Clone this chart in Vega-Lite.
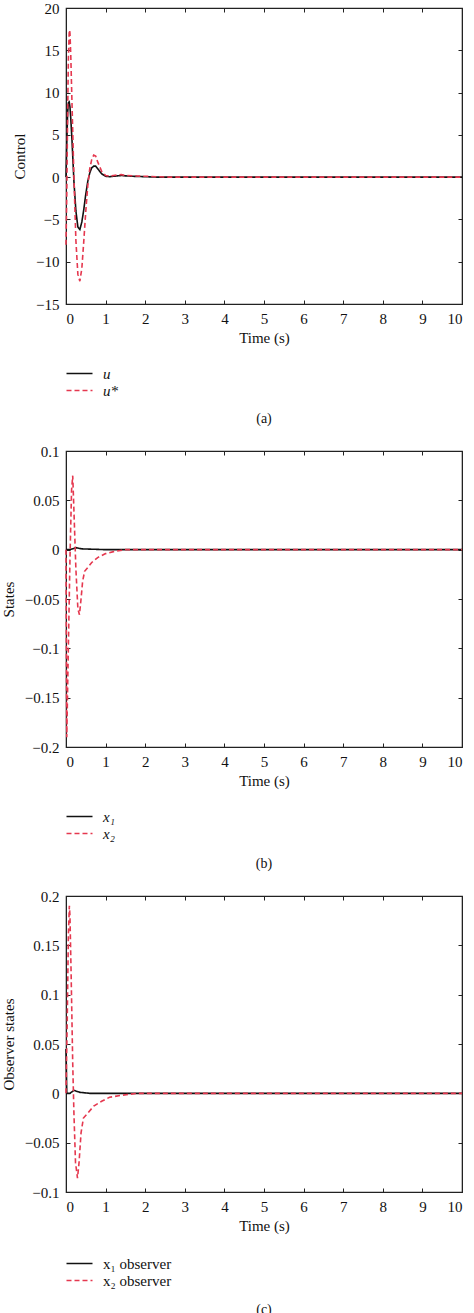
{
  "$schema": "https://vega.github.io/schema/vega-lite/v6.json",
  "padding": {"left": 0, "top": 0, "right": 0, "bottom": 0},
  "spacing": 16,
  "align": "none",
  "resolve": {"scale": {"color": "independent", "strokeDash": "independent"}, "legend": {"color": "independent", "strokeDash": "independent"}},
  "config": {
    "font": "Liberation Serif",
    "view": {"stroke": "#222", "strokeWidth": 1.2},
    "axis": {
      "grid": false,
      "domainColor": "#222",
      "tickColor": "#222",
      "tickSize": -4,
      "labelFontSize": 15,
      "labelColor": "#111",
      "titleFontSize": 15,
      "titleFontWeight": "normal",
      "titleColor": "#111",
      "labelPadding": 11,
      "format": "~r"
    },
    "legend": {
      "labelFontSize": 15,
      "labelColor": "#111",
      "symbolType": "M-2,0H2",
      "symbolSize": 169,
      "symbolStrokeWidth": 1.6,
      "labelOffset": 16,
      "rowPadding": 1,
      "padding": 0,
      "title": null
    },
    "title": {"fontSize": 14, "fontWeight": "normal", "color": "#111"}
  },
  "datasets": {
    "a": [
      {"t": 0, "v": 0, "s": "u"}, {"t": 0.02, "v": 4, "s": "u"}, {"t": 0.04, "v": 7.5, "s": "u"},
      {"t": 0.06, "v": 8.8, "s": "u"}, {"t": 0.08, "v": 8.9, "s": "u"}, {"t": 0.1, "v": 8.3, "s": "u"},
      {"t": 0.12, "v": 7, "s": "u"}, {"t": 0.15, "v": 4.5, "s": "u"}, {"t": 0.2, "v": -0.5, "s": "u"},
      {"t": 0.25, "v": -4, "s": "u"}, {"t": 0.3, "v": -5.9, "s": "u"}, {"t": 0.35, "v": -6.2, "s": "u"},
      {"t": 0.4, "v": -5.3, "s": "u"}, {"t": 0.45, "v": -3.8, "s": "u"}, {"t": 0.5, "v": -2, "s": "u"},
      {"t": 0.55, "v": -0.5, "s": "u"}, {"t": 0.6, "v": 0.5, "s": "u"}, {"t": 0.65, "v": 1.1, "s": "u"},
      {"t": 0.7, "v": 1.3, "s": "u"}, {"t": 0.75, "v": 1.3, "s": "u"}, {"t": 0.8, "v": 1.0, "s": "u"},
      {"t": 0.9, "v": 0.4, "s": "u"}, {"t": 1.0, "v": 0.1, "s": "u"}, {"t": 1.1, "v": 0.05, "s": "u"},
      {"t": 1.2, "v": 0.1, "s": "u"}, {"t": 1.3, "v": 0.15, "s": "u"}, {"t": 1.4, "v": 0.2, "s": "u"},
      {"t": 1.5, "v": 0.15, "s": "u"}, {"t": 1.7, "v": 0.1, "s": "u"}, {"t": 2.0, "v": 0.05, "s": "u"},
      {"t": 2.3, "v": 0, "s": "u"}, {"t": 3, "v": 0, "s": "u"}, {"t": 10, "v": 0, "s": "u"},
      {"t": 0, "v": -8, "s": "u*"}, {"t": 0.02, "v": -2, "s": "u*"}, {"t": 0.04, "v": 7, "s": "u*"},
      {"t": 0.06, "v": 14, "s": "u*"}, {"t": 0.08, "v": 17, "s": "u*"}, {"t": 0.09, "v": 17.4, "s": "u*"},
      {"t": 0.1, "v": 17, "s": "u*"}, {"t": 0.12, "v": 14.5, "s": "u*"}, {"t": 0.15, "v": 9, "s": "u*"},
      {"t": 0.2, "v": 0, "s": "u*"}, {"t": 0.25, "v": -7.5, "s": "u*"}, {"t": 0.3, "v": -11.5, "s": "u*"},
      {"t": 0.35, "v": -12.3, "s": "u*"}, {"t": 0.4, "v": -10.8, "s": "u*"}, {"t": 0.45, "v": -7.5, "s": "u*"},
      {"t": 0.5, "v": -4, "s": "u*"}, {"t": 0.55, "v": -1, "s": "u*"}, {"t": 0.6, "v": 1, "s": "u*"},
      {"t": 0.65, "v": 2.1, "s": "u*"}, {"t": 0.7, "v": 2.6, "s": "u*"}, {"t": 0.75, "v": 2.5, "s": "u*"},
      {"t": 0.8, "v": 1.8, "s": "u*"}, {"t": 0.9, "v": 0.7, "s": "u*"}, {"t": 1.0, "v": 0.2, "s": "u*"},
      {"t": 1.1, "v": 0.1, "s": "u*"}, {"t": 1.2, "v": 0.2, "s": "u*"}, {"t": 1.3, "v": 0.25, "s": "u*"},
      {"t": 1.4, "v": 0.3, "s": "u*"}, {"t": 1.5, "v": 0.2, "s": "u*"}, {"t": 1.7, "v": 0.15, "s": "u*"},
      {"t": 2.0, "v": 0.1, "s": "u*"}, {"t": 2.3, "v": 0.05, "s": "u*"}, {"t": 2.6, "v": 0, "s": "u*"},
      {"t": 3, "v": 0, "s": "u*"}, {"t": 10, "v": 0, "s": "u*"}
    ],
    "b": [
      {"t": 0, "v": 0, "s": "x₁"}, {"t": 0.1, "v": 0, "s": "x₁"}, {"t": 0.25, "v": 0.002, "s": "x₁"},
      {"t": 0.4, "v": 0.0008, "s": "x₁"}, {"t": 0.8, "v": 0.0003, "s": "x₁"}, {"t": 1, "v": 0, "s": "x₁"},
      {"t": 10, "v": 0, "s": "x₁"},
      {"t": 0, "v": 0, "s": "x₂"}, {"t": 0.02, "v": -0.19, "s": "x₂"}, {"t": 0.05, "v": -0.12, "s": "x₂"},
      {"t": 0.1, "v": -0.01, "s": "x₂"}, {"t": 0.14, "v": 0.06, "s": "x₂"}, {"t": 0.17, "v": 0.075, "s": "x₂"},
      {"t": 0.2, "v": 0.04, "s": "x₂"}, {"t": 0.25, "v": -0.02, "s": "x₂"}, {"t": 0.3, "v": -0.06, "s": "x₂"},
      {"t": 0.34, "v": -0.066, "s": "x₂"}, {"t": 0.38, "v": -0.05, "s": "x₂"}, {"t": 0.42, "v": -0.032, "s": "x₂"},
      {"t": 0.47, "v": -0.022, "s": "x₂"}, {"t": 0.55, "v": -0.018, "s": "x₂"}, {"t": 0.65, "v": -0.013, "s": "x₂"},
      {"t": 0.8, "v": -0.008, "s": "x₂"}, {"t": 1.0, "v": -0.004, "s": "x₂"}, {"t": 1.2, "v": -0.002, "s": "x₂"},
      {"t": 1.5, "v": 0, "s": "x₂"}, {"t": 10, "v": 0, "s": "x₂"}
    ],
    "c": [
      {"t": 0, "v": 0.045, "s": "x₁ observer"}, {"t": 0.02, "v": 0, "s": "x₁ observer"},
      {"t": 0.1, "v": 0, "s": "x₁ observer"}, {"t": 0.2, "v": 0.003, "s": "x₁ observer"},
      {"t": 0.35, "v": 0.001, "s": "x₁ observer"}, {"t": 0.6, "v": 0, "s": "x₁ observer"},
      {"t": 10, "v": 0, "s": "x₁ observer"},
      {"t": 0, "v": 0, "s": "x₂ observer"}, {"t": 0.03, "v": 0.07, "s": "x₂ observer"},
      {"t": 0.06, "v": 0.16, "s": "x₂ observer"}, {"t": 0.085, "v": 0.19, "s": "x₂ observer"},
      {"t": 0.1, "v": 0.18, "s": "x₂ observer"}, {"t": 0.13, "v": 0.12, "s": "x₂ observer"},
      {"t": 0.17, "v": 0.03, "s": "x₂ observer"}, {"t": 0.2, "v": -0.02, "s": "x₂ observer"},
      {"t": 0.24, "v": -0.07, "s": "x₂ observer"}, {"t": 0.29, "v": -0.086, "s": "x₂ observer"},
      {"t": 0.33, "v": -0.07, "s": "x₂ observer"}, {"t": 0.38, "v": -0.04, "s": "x₂ observer"},
      {"t": 0.44, "v": -0.025, "s": "x₂ observer"}, {"t": 0.55, "v": -0.02, "s": "x₂ observer"},
      {"t": 0.7, "v": -0.013, "s": "x₂ observer"}, {"t": 0.9, "v": -0.008, "s": "x₂ observer"},
      {"t": 1.1, "v": -0.004, "s": "x₂ observer"}, {"t": 1.4, "v": -0.002, "s": "x₂ observer"},
      {"t": 1.8, "v": 0, "s": "x₂ observer"}, {"t": 10, "v": 0, "s": "x₂ observer"}
    ]
  },
  "vconcat": [
    {
      "width": 396,
      "height": 296,
      "data": {"name": "a"},
      "title": {"text": "(a)", "orient": "bottom", "anchor": "middle", "offset": 13},
      "layer": [
        {
          "mark": {"type": "line", "strokeWidth": 1.6},
          "encoding": {
            "x": {"field": "t", "type": "quantitative", "title": "Time (s)",
              "scale": {"domain": [0, 10], "nice": false},
              "axis": {"values": [0, 1, 2, 3, 4, 5, 6, 7, 8, 9, 10]}},
            "y": {"field": "v", "type": "quantitative", "title": "Control",
              "scale": {"domain": [-15, 20], "nice": false},
              "axis": {"values": [-15, -10, -5, 0, 5, 10, 15, 20], "titlePadding": 8}},
            "color": {"field": "s", "type": "nominal",
              "scale": {"domain": ["u", "u*"], "range": ["#111111", "#e5384f"]},
              "legend": {"orient": "none", "legendX": 6, "legendY": 358, "labelFontStyle": "italic"}},
            "strokeDash": {"field": "s", "type": "nominal",
              "scale": {"domain": ["u", "u*"], "range": [[1, 0], [5, 3]]}}
          }
        },
        {
          "mark": {"type": "line", "opacity": 0},
          "encoding": {
            "x": {"field": "t", "type": "quantitative",
              "axis": {"orient": "top", "labels": false, "title": null, "values": [0, 1, 2, 3, 4, 5, 6, 7, 8, 9, 10]}},
            "y": {"field": "v", "type": "quantitative",
              "axis": {"orient": "right", "labels": false, "title": null, "values": [-15, -10, -5, 0, 5, 10, 15, 20]}}
          }
        }
      ],
      "resolve": {"axis": {"x": "independent", "y": "independent"}}
    },
    {
      "width": 396,
      "height": 296,
      "data": {"name": "b"},
      "title": {"text": "(b)", "orient": "bottom", "anchor": "middle", "offset": 15},
      "layer": [
        {
          "mark": {"type": "line", "strokeWidth": 1.6},
          "encoding": {
            "x": {"field": "t", "type": "quantitative", "title": "Time (s)",
              "scale": {"domain": [0, 10], "nice": false},
              "axis": {"values": [0, 1, 2, 3, 4, 5, 6, 7, 8, 9, 10]}},
            "y": {"field": "v", "type": "quantitative", "title": "States",
              "scale": {"domain": [-0.2, 0.1], "nice": false},
              "axis": {"values": [-0.2, -0.15, -0.1, -0.05, 0, 0.05, 0.1], "titlePadding": 8}},
            "color": {"field": "s", "type": "nominal",
              "scale": {"domain": ["x₁", "x₂"], "range": ["#111111", "#e5384f"]},
              "legend": {"orient": "none", "legendX": 6, "legendY": 358, "labelFontStyle": "italic"}},
            "strokeDash": {"field": "s", "type": "nominal",
              "scale": {"domain": ["x₁", "x₂"], "range": [[1, 0], [5, 3]]}}
          }
        },
        {
          "mark": {"type": "line", "opacity": 0},
          "encoding": {
            "x": {"field": "t", "type": "quantitative",
              "axis": {"orient": "top", "labels": false, "title": null, "values": [0, 1, 2, 3, 4, 5, 6, 7, 8, 9, 10]}},
            "y": {"field": "v", "type": "quantitative",
              "axis": {"orient": "right", "labels": false, "title": null, "values": [-0.2, -0.15, -0.1, -0.05, 0, 0.05, 0.1]}}
          }
        }
      ],
      "resolve": {"axis": {"x": "independent", "y": "independent"}}
    },
    {
      "width": 396,
      "height": 296,
      "data": {"name": "c"},
      "title": {"text": "(c)", "orient": "bottom", "anchor": "middle", "offset": 14},
      "layer": [
        {
          "mark": {"type": "line", "strokeWidth": 1.6},
          "encoding": {
            "x": {"field": "t", "type": "quantitative", "title": "Time (s)",
              "scale": {"domain": [0, 10], "nice": false},
              "axis": {"values": [0, 1, 2, 3, 4, 5, 6, 7, 8, 9, 10]}},
            "y": {"field": "v", "type": "quantitative", "title": "Observer states",
              "scale": {"domain": [-0.1, 0.2], "nice": false},
              "axis": {"values": [-0.1, -0.05, 0, 0.05, 0.1, 0.15, 0.2], "titlePadding": 8}},
            "color": {"field": "s", "type": "nominal",
              "scale": {"domain": ["x₁ observer", "x₂ observer"], "range": ["#111111", "#e5384f"]},
              "legend": {"orient": "none", "legendX": 6, "legendY": 360}},
            "strokeDash": {"field": "s", "type": "nominal",
              "scale": {"domain": ["x₁ observer", "x₂ observer"], "range": [[1, 0], [5, 3]]}}
          }
        },
        {
          "mark": {"type": "line", "opacity": 0},
          "encoding": {
            "x": {"field": "t", "type": "quantitative",
              "axis": {"orient": "top", "labels": false, "title": null, "values": [0, 1, 2, 3, 4, 5, 6, 7, 8, 9, 10]}},
            "y": {"field": "v", "type": "quantitative",
              "axis": {"orient": "right", "labels": false, "title": null, "values": [-0.1, -0.05, 0, 0.05, 0.1, 0.15, 0.2]}}
          }
        }
      ],
      "resolve": {"axis": {"x": "independent", "y": "independent"}}
    }
  ]
}
